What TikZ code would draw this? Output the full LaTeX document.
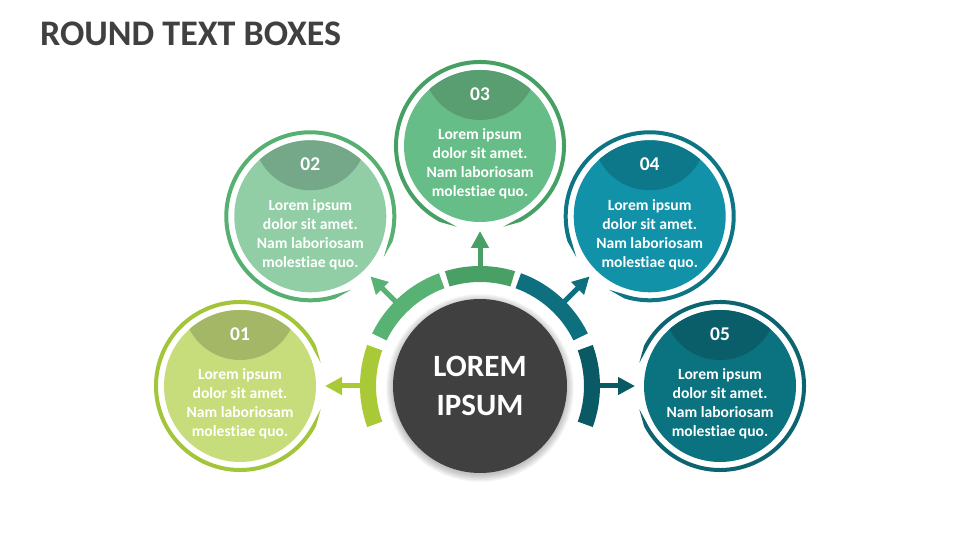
\documentclass[tikz,border=0pt]{standalone}
\usepackage{fontspec}
\setmainfont[Ligatures=NoCommon]{Carlito}
\usetikzlibrary{arrows.meta,calc}
\definecolor{titlec}{HTML}{404040}
\definecolor{darkc}{HTML}{404040}
\definecolor{r1}{HTML}{A2C53A}\definecolor{f1}{HTML}{C7DC7B}\definecolor{k1}{HTML}{A3B766}\definecolor{s1}{HTML}{A9C937}
\definecolor{r2}{HTML}{55B071}\definecolor{f2}{HTML}{92CEA5}\definecolor{k2}{HTML}{74A888}\definecolor{s2}{HTML}{57B273}
\definecolor{r3}{HTML}{47A063}\definecolor{f3}{HTML}{67BD87}\definecolor{k3}{HTML}{599E70}\definecolor{s3}{HTML}{48A064}
\definecolor{r4}{HTML}{0E7585}\definecolor{f4}{HTML}{1192A8}\definecolor{k4}{HTML}{0D7889}\definecolor{s4}{HTML}{0E6F7F}
\definecolor{r5}{HTML}{0B6470}\definecolor{f5}{HTML}{0B7280}\definecolor{k5}{HTML}{0A5E69}\definecolor{s5}{HTML}{0A5A66}
\begin{document}
\begin{tikzpicture}[x=1pt,y=1pt,
  bodytxt/.style={text=white,font=\fontsize{15.6}{19}\selectfont\bfseries,align=center,inner sep=0pt},
  numtxt/.style={text=white,font=\fontsize{19.5}{20}\selectfont\bfseries,inner sep=0pt},
  fillcirc/.style={circle,minimum size=152pt,inner sep=0pt},
  arr/.style={line width=5pt,-{Triangle[length=17pt 0 0,width=17pt 0 0]}},
  maintxt/.style={circle,fill=darkc,minimum size=174pt,inner sep=0pt,text=white,align=center,font=\fontsize{31}{39}\selectfont\bfseries},
  titletxt/.style={anchor=base west,font=\fontsize{36}{36}\selectfont\bfseries,text=titlec,inner sep=0pt}]
\useasboundingbox (0,0) rectangle (960,540);
\fill[white] (0,0) rectangle (960,540);
\node[titletxt] (title) at (40,494) {ROUND TEXT BOXES};
\coordinate (M) at (480,154);
% outer circles
\foreach \n/\ang/\lab in {1/180/01,2/135/02,3/90/03,4/45/04,5/0/05}{
  \path (M) ++(\ang:240) coordinate (c\n);
  \pgfmathsetmacro\da{\ang+180+16}
  \pgfmathsetmacro\db{\ang+180+28}
  \pgfmathsetmacro\dc{\ang+180+332}
  \pgfmathsetmacro\dd{\ang+180+344}
  \fill[r\n] ($(c\n)+(\da:84)$) -- ($(c\n)+(\db:86)$) arc[start angle=\db,end angle=\dc,radius=86]
     -- ($(c\n)+(\dd:84)$) -- ($(c\n)+(\dc:82)$) arc[start angle=\dc,end angle=\db,radius=82] -- cycle;
  \node[fillcirc,fill=f\n] (f\n) at (c\n) {};
  \begin{scope}
    \clip (c\n) circle[radius=76];
    \fill[k\n] ($(c\n)+(0,83)$) circle[radius=57];
  \end{scope}
  \node[numtxt] (n\n) at ($(c\n)+(0,52)$) {\lab};
  \node[bodytxt] (b\n) at ($(c\n)+(0,-18)$) {Lorem ipsum\\dolor sit amet.\\Nam laboriosam\\molestiae quo.};
}
% central ring segments and arrows
\foreach \n/\a/\b/\ang in {1/160/200/180,2/110/154/135,3/73/107/90,4/26/70/45,5/-20/20/0}{
  \fill[s\n] ($(M)+(\a:120)$) arc[start angle=\a,end angle=\b,radius=120]
     -- ($(M)+(\b:104)$) arc[start angle=\b,end angle=\a,radius=104] -- cycle;
  \path (M) ++(\ang:118) coordinate (s\n);
  \path (M) ++(\ang:155) coordinate (t\n);
  \draw[arr,s\n] (s\n) -- (t\n);
}
% shadow of centre circle
\foreach \i in {1,...,8}{
  \fill[black,opacity=0.03] ($(M)+(0,-2)$) circle[radius=86+\i];
}
\node[maintxt] (centre) at (M) {LOREM\\IPSUM};
\end{tikzpicture}
\end{document}
